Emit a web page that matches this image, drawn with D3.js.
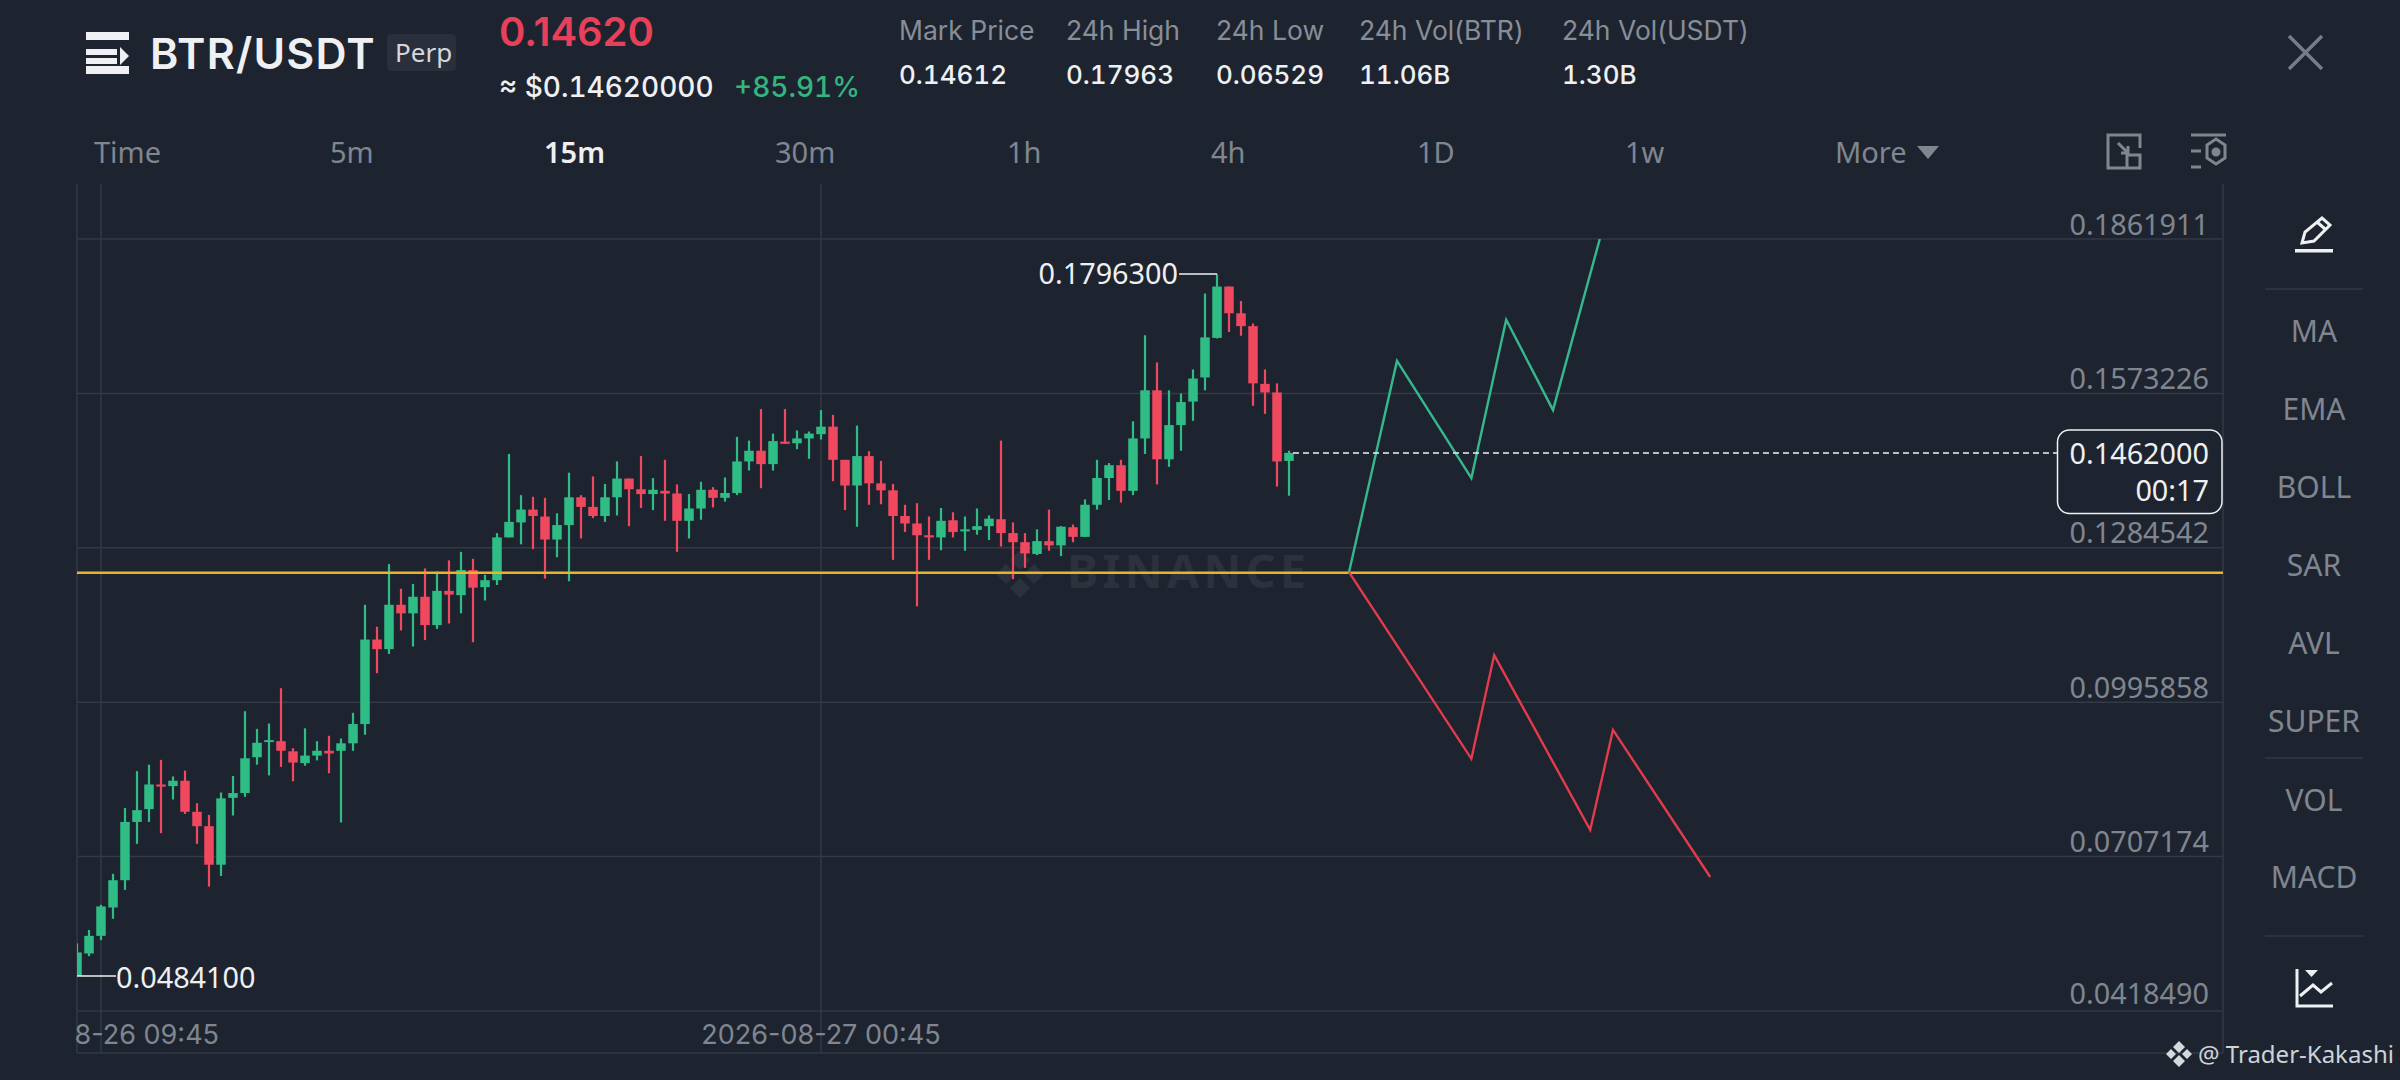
<!DOCTYPE html>
<html>
<head>
<meta charset="utf-8">
<script src="https://cdn.jsdelivr.net/npm/d3@7"></script>
<style>
html, body { margin: 0; padding: 0; background: #1e242f; overflow: hidden; }
svg { display: block; }
text { font-family: "Noto Sans", "Open Sans", sans-serif; }
.num { font-family: Inter, "Noto Sans", sans-serif; }
.tab { font-family: Inter, "Noto Sans", sans-serif; font-variant-numeric: tabular-nums; }
</style>
</head>
<body>
<div id="chart"></div>
<script>
// candles, 15m
var opens = [.0484,.0526,.0559,.0612,.0663,.0772,.0796,.0842,.0839,.0849,
  .0791,.0764,.0692,.0817,.0826,.0893,.0922,.0923,.0904,.0882,
  .0896,.0905,.0905,.0919,.0955,.1113,.1095,.1178,.1162,.1193,
  .1140,.1204,.1196,.1243,.1211,.1224,.1304,.1332,.1356,.1343,
  .1300,.1327,.1379,.1361,.1344,.1379,.1414,.1394,.1385,.1391,
  .1386,.1335,.1358,.1393,.1378,.1387,.1446,.1466,.1441,.1483,
  .1480,.1489,.1497,.1511,.1449,.1401,.1456,.1405,.1392,.1344,
  .1330,.1308,.1304,.1336,.1316,.1318,.1325,.1338,.1312,.1295,
  .1273,.1297,.1289,.1323,.1305,.1365,.1415,.1439,.1391,.1489,
  .1579,.1450,.1514,.1558,.1603,.1677,.1773,.1723,.1699,.1591,
  .1575,.1447];
var closes = [.0528,.0559,.0614,.0663,.0772,.0794,.0842,.0838,.0849,.0791,
  .0764,.0692,.0816,.0826,.0891,.0920,.0925,.0905,.0883,.0896,
  .0905,.0900,.0919,.0955,.1113,.1095,.1178,.1162,.1193,.1140,
  .1204,.1197,.1243,.1210,.1224,.1304,.1333,.1356,.1344,.1300,
  .1327,.1379,.1361,.1344,.1379,.1414,.1394,.1385,.1393,.1386,
  .1335,.1358,.1393,.1378,.1387,.1446,.1466,.1441,.1484,.1479,
  .1489,.1498,.1511,.1449,.1401,.1456,.1405,.1392,.1344,.1330,
  .1308,.1304,.1335,.1314,.1319,.1325,.1339,.1312,.1295,.1274,
  .1297,.1289,.1324,.1305,.1365,.1415,.1439,.1391,.1489,.1579,
  .1450,.1514,.1557,.1601,.1678,.1773,.1723,.1699,.1592,.1575,
  .1446,.1462];
var highs = [.0545,.0570,.0617,.0675,.0798,.0867,.0879,.0888,.0857,.0868,
  .0807,.0785,.0827,.0858,.0979,.0946,.0956,.1022,.0910,.0947,
  .0923,.0933,.0928,.0976,.1178,.1137,.1254,.1208,.1217,.1246,
  .1240,.1261,.1277,.1264,.1234,.1312,.1460,.1383,.1380,.1378,
  .1349,.1425,.1383,.1418,.1404,.1446,.1414,.1456,.1415,.1449,
  .1403,.1385,.1408,.1398,.1416,.1492,.1485,.1544,.1498,.1544,
  .1504,.1502,.1542,.1533,.1449,.1513,.1465,.1447,.1404,.1365,
  .1368,.1343,.1359,.1351,.1343,.1358,.1345,.1485,.1332,.1312,
  .1319,.1356,.1325,.1328,.1375,.1449,.1443,.1449,.1521,.1682,
  .1631,.1579,.1573,.1618,.1760,.1796,.1773,.1746,.1704,.1618,
  .1592,.1466];
var lows = [.0484,.0521,.0551,.0591,.0645,.0731,.0772,.0751,.0814,.0787,
  .0731,.0651,.0671,.0784,.0819,.0879,.0859,.0875,.0848,.0877,
  .0887,.0863,.0771,.0905,.0935,.1050,.1086,.1130,.1100,.1112,
  .1133,.1143,.1162,.1108,.1186,.1215,.1304,.1291,.1282,.1227,
  .1267,.1222,.1302,.1340,.1333,.1345,.1325,.1359,.1355,.1335,
  .1277,.1302,.1337,.1360,.1371,.1383,.1429,.1396,.1429,.1479,
  .1469,.1451,.1487,.1409,.1355,.1324,.1365,.1366,.1262,.1314,
  .1175,.1262,.1280,.1304,.1279,.1309,.1299,.1287,.1226,.1247,
  .1271,.1279,.1269,.1295,.1305,.1356,.1374,.1369,.1383,.1460,
  .1403,.1436,.1466,.1522,.1579,.1676,.1688,.1681,.1550,.1535,
  .1399,.1382];

// hand drawn scenario lines, candle index / price
var upIndex = [106, 110, 116.2, 119.1, 123, 126.9];
var upPrice = [.1239, .1634, .1415, .1711, .1542, .1862];
var downIndex = [106, 116.2, 118.1, 126.1, 128, 136.1];
var downPrice = [.1239, .0890, .1084, .0757, .0944, .0669];

var priceTicks = [0.1861911, 0.1573226, 0.1284542, 0.0995858, 0.0707174, 0.0418490];
var levelPrice = 0.1238;
var lastPrice = 0.1462;
var highLabel = 0.17963;
var lowLabel = 0.04841;
var timeTicks = [2, 62];
var timeLabels = ["8-26 09:45", "2026-08-27 00:45"];
var tabs = ["Time", "5m", "15m", "30m", "1h", "4h", "1D", "1w", "More"];
var indicators = ["MA", "EMA", "BOLL", "SAR", "AVL", "SUPER", "VOL", "MACD"];
var statNames = ["Mark Price", "24h High", "24h Low", "24h Vol(BTR)", "24h Vol(USDT)"];
var statValues = ["0.14612", "0.17963", "0.06529", "11.06B", "1.30B"];

var BG = "#1e242f", GRID = "#333945", MUTED = "#80868f", WHITE = "#eef0f3",
    GREEN = "#2fbd85", RED = "#f0485f", YELLOW = "#e8b428";

var svg = d3.select("#chart").append("svg").attr("width", 2400).attr("height", 1080);
svg.append("rect").attr("width", 2400).attr("height", 1080).attr("fill", BG);

var plotL = 77, plotR = 2223, plotT = 184, plotB = 1053;
var x = d3.scaleLinear().domain([0, 101]).range([77, 1289]);
var y = d3.scaleLinear().domain([0.041849, 0.1861911]).range([1011, 239]);

function label(s, px, py, size, color, anchor, weight, cls) {
    return svg.append("text")
        .attr("class", cls || null)
        .attr("x", px).attr("y", py)
        .attr("font-size", size)
        .attr("fill", color)
        .attr("text-anchor", anchor || "start")
        .attr("font-weight", weight || 400)
        .text(s);
}

// grid
svg.append("g").selectAll("line").data(priceTicks).enter().append("line")
    .attr("x1", plotL).attr("x2", plotR)
    .attr("y1", function (d) { return y(d); }).attr("y2", function (d) { return y(d); })
    .attr("stroke", GRID).attr("stroke-width", 1.5);
svg.append("line").attr("x1", plotL).attr("x2", plotR).attr("y1", plotB).attr("y2", plotB)
    .attr("stroke", GRID).attr("stroke-width", 1.5);
svg.append("g").selectAll("line").data(timeTicks).enter().append("line")
    .attr("x1", function (d) { return x(d); }).attr("x2", function (d) { return x(d); })
    .attr("y1", plotT).attr("y2", plotB)
    .attr("stroke", GRID).attr("stroke-width", 1.5);
[plotL, plotR].forEach(function (v) {
    svg.append("line").attr("x1", v).attr("x2", v).attr("y1", plotT).attr("y2", plotB)
        .attr("stroke", GRID).attr("stroke-width", 1.5);
});

// watermark sits under the candles
var wm = svg.append("g").attr("fill", "#2b313d");
wm.append("text").attr("x", 1067).attr("y", 588).attr("font-size", 47)
    .attr("font-weight", 700).attr("letter-spacing", 4).text("BINANCE");
wm.append("path").attr("transform", "translate(1020,574)")
    .attr("d", "M0,-24L10,-14L0,-4L-10,-14ZM-14,-10L-4,0L-14,10L-24,0ZM14,-10L24,0L14,10L4,0ZM-10,14L0,4L10,14L0,24Z");

// candles
svg.append("clipPath").attr("id", "plot").append("rect")
    .attr("x", plotL).attr("y", plotT).attr("width", plotR - plotL).attr("height", plotB - plotT);
var candles = svg.append("g").attr("clip-path", "url(#plot)")
    .selectAll("g").data(opens).enter().append("g")
    .attr("fill", function (d, i) { return closes[i] >= d ? GREEN : RED; });
candles.append("rect")
    .attr("x", function (d, i) { return x(i) - 1.1; })
    .attr("width", 2.2)
    .attr("y", function (d, i) { return y(highs[i]); })
    .attr("height", function (d, i) { return y(lows[i]) - y(highs[i]); });
candles.append("rect")
    .attr("x", function (d, i) { return x(i) - 4.75; })
    .attr("width", 9.5)
    .attr("y", function (d, i) { return y(Math.max(d, closes[i])); })
    .attr("height", function (d, i) { return Math.max(2, Math.abs(y(d) - y(closes[i]))); });

// support level
svg.append("line").attr("x1", plotL).attr("x2", plotR)
    .attr("y1", y(levelPrice)).attr("y2", y(levelPrice))
    .attr("stroke", YELLOW).attr("stroke-width", 2.5);

// scenario lines
var path = d3.line().x(function (d) { return x(d[0]); }).y(function (d) { return y(d[1]); });
svg.append("path").datum(d3.zip(upIndex, upPrice)).attr("d", path)
    .attr("fill", "none").attr("stroke", "#35b88c").attr("stroke-width", 2.4);
svg.append("path").datum(d3.zip(downIndex, downPrice)).attr("d", path)
    .attr("fill", "none").attr("stroke", "#e33b4c").attr("stroke-width", 2.4);

// last price line and box
svg.append("line").attr("x1", x(101) + 4).attr("x2", 2057)
    .attr("y1", y(lastPrice)).attr("y2", y(lastPrice))
    .attr("stroke", WHITE).attr("stroke-width", 1.5).attr("stroke-dasharray", "6 4");
svg.append("rect").attr("x", 2057.5).attr("y", 430).attr("width", 164.5).attr("height", 83.5).attr("rx", 12)
    .attr("fill", BG).attr("stroke", WHITE).attr("stroke-width", 1.5);

// y axis labels, the lowest one sits a bit higher
var yAxis = svg.append("g").attr("transform", "translate(2209,0)")
    .call(d3.axisLeft(y).tickValues(priceTicks).tickSize(0).tickPadding(0).tickFormat(d3.format(".7f")));
yAxis.select(".domain").remove();
yAxis.selectAll("text")
    .attr("font-size", 28.8).attr("fill", MUTED)
    .attr("dy", function (d, i) { return i === priceTicks.length - 1 ? -8 : -5; })
    .style("font-family", '"Noto Sans", sans-serif');

label(d3.format(".7f")(lastPrice), 2209, 464, 28.8, WHITE, "end");
label("00:17", 2209, 501, 28.8, WHITE, "end");

// time labels
label(timeLabels[0], x(timeTicks[0]) + 118, 1044, 27, MUTED, "end", 400, "num");
label(timeLabels[1], x(timeTicks[1]), 1044, 27, MUTED, "middle", 400, "num");

// high/low markers
svg.append("path").attr("d", "M" + x(95) + "," + y(highLabel) + "H1179")
    .attr("stroke", WHITE).attr("stroke-width", 1.5).attr("fill", "none");
label(d3.format(".7f")(highLabel), 1178, 284, 28.8, WHITE, "end");
svg.append("path").attr("d", "M" + plotL + "," + y(lowLabel) + "H116")
    .attr("stroke", WHITE).attr("stroke-width", 1.5).attr("fill", "none");
label(d3.format(".7f")(lowLabel), 116, 988, 28.8, WHITE);

// header
var burger = svg.append("g").attr("fill", "#eef0f3");
burger.append("rect").attr("x", 86).attr("y", 32).attr("width", 43).attr("height", 8);
burger.append("rect").attr("x", 86).attr("y", 49).attr("width", 31).attr("height", 6);
burger.append("rect").attr("x", 86).attr("y", 58).attr("width", 31).attr("height", 6);
burger.append("path").attr("d", "M120,47L129,56L120,65Z");
burger.append("rect").attr("x", 86).attr("y", 66).attr("width", 43).attr("height", 8);

label("BTR/USDT", 150, 69, 43, WHITE, "start", 600, "num").attr("letter-spacing", 1.2);
svg.append("rect").attr("x", 387).attr("y", 34).attr("width", 69).attr("height", 37).attr("rx", 4).attr("fill", "#2a303b");
label("Perp", 395, 62, 26, "#d5d8dc");
label("0.14620", 499, 46, 40, "#e8405a", "start", 600, "num");
label("≈ $0.14620000", 499, 97, 28, WHITE, "start", 500, "tab");
label("+85.91%", 734, 97, 28, "#35b47f", "start", 500, "tab");

[899, 1066, 1216, 1359, 1562].forEach(function (px, i) {
    label(statNames[i], px, 40, 26.5, "#878e98", "start", 400, "num");
    label(statValues[i], px, 84, 26, WHITE, "start", 500, "tab");
});

// close button
svg.append("path").attr("d", "M2289,36L2322,69M2322,36L2289,69")
    .attr("stroke", "#767d89").attr("stroke-width", 3.5).attr("fill", "none");

// interval tabs
[94, 330, 544, 775, 1007, 1211, 1417, 1625, 1835].forEach(function (px, i) {
    var active = tabs[i] === "15m";
    label(tabs[i], px, 163, 29, active ? WHITE : MUTED, "start", active ? 600 : 400);
});
svg.append("path").attr("d", "M1917,146H1939L1928,159Z").attr("fill", MUTED);

// toolbar icons
var tool = svg.append("g").attr("fill", "none").attr("stroke", MUTED).attr("stroke-width", 3);
tool.append("path").attr("d", "M2126,135H2108V168H2126M2108,135H2140V148M2118,143L2128,153M2128,146V153H2121");
tool.append("rect").attr("x", 2127).attr("y", 155).attr("width", 13).attr("height", 13);
tool.append("path").attr("d", "M2191,135H2226M2191,151H2201M2191,167H2201");
tool.append("path").attr("d", "M2216,139L2225,145V158L2216,164L2207,158V145Z");
tool.append("circle").attr("cx", 2216).attr("cy", 152).attr("r", 3).attr("fill", MUTED);

// indicator sidebar
[342, 420, 498, 576, 654, 732, 811, 888].forEach(function (py, i) {
    label(indicators[i], 2314, py, 30, MUTED, "middle");
});
[289, 758, 936].forEach(function (py) {
    svg.append("line").attr("x1", 2265).attr("x2", 2363).attr("y1", py).attr("y2", py)
        .attr("stroke", GRID).attr("stroke-width", 1.5);
});

// pencil
svg.append("path").attr("d", "M2302,243L2305,232L2322,218L2330,225L2314,241Z M2317,222L2325,229")
    .attr("fill", "none").attr("stroke", WHITE).attr("stroke-width", 3);
svg.append("rect").attr("x", 2295).attr("y", 249).attr("width", 38).attr("height", 3.5).attr("fill", WHITE);

// chart icon
svg.append("path").attr("d", "M2297,969V1006H2333M2300,996L2313,985L2321,992L2332,983")
    .attr("fill", "none").attr("stroke", WHITE).attr("stroke-width", 3);
svg.append("path").attr("d", "M2305,970H2318L2311.5,977Z").attr("fill", WHITE);

// credit
svg.append("path").attr("transform", "translate(2179,1054)")
    .attr("fill", "#d5d8dc")
    .attr("d", "M0,-13L6,-7L0,-1L-6,-7ZM-13,0L-8,-5L-3,0L-8,5ZM13,0L8,-5L3,0L8,5ZM0,13L-6,7L0,1L6,7Z");
label("@ Trader-Kakashi", 2198, 1063, 24, "#cfd2d7");
</script>
</body>
</html>
